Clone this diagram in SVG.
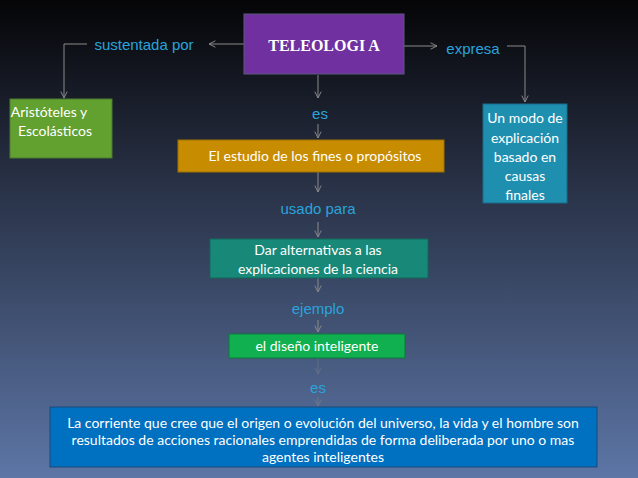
<svg xmlns="http://www.w3.org/2000/svg" width="638" height="478" viewBox="0 0 638 478">
<defs>
<linearGradient id="bg" x1="0" y1="0" x2="0" y2="1">
<stop offset="0" stop-color="#050507"/><stop offset="0.35" stop-color="#252d40"/><stop offset="1" stop-color="#5d76a6"/>
</linearGradient>
<marker id="a" viewBox="0 0 10 10" refX="9" refY="5" markerWidth="8" markerHeight="8" orient="auto"><path d="M1,1 L9,5 L1,9" fill="none" stroke="#8a8a8a" stroke-width="1.2"/></marker>
<style>
.c{fill:none;stroke:#8a8a8a;stroke-width:1;marker-end:url(#a)}
.l{font-family:"Liberation Sans",Arial,sans-serif;font-size:15px;fill:#2aa3dc;text-anchor:middle}
.t{font-family:Lato,"Open Sans",sans-serif;font-size:14px;fill:#fff;text-anchor:middle}
</style>
</defs>
<rect width="638" height="478" fill="url(#bg)"/>
<g id="connectors">
<path class="c" d="M244,44 H209"/>
<path class="c" d="M87,44 H64 V98"/>
<path class="c" d="M404,46 H437"/>
<path class="c" d="M507,46 H525 V102"/>
<path class="c" d="M318,75 V98"/>
<path class="c" d="M318,124 V138"/>
<path class="c" d="M318,172 V192"/>
<path class="c" d="M318,222 V237"/>
<path class="c" d="M318,278 V292"/>
<path class="c" d="M318,320 V332"/>
<path class="c" d="M318,358 V374" opacity="0.4"/>
<path class="c" d="M318,397 V406" opacity="0.5"/>
</g>
<g id="teleologia"><rect x="244" y="14" width="160" height="60" fill="#7030a0" stroke="#5a5a7a"/><text x="324" y="51" font-family="'Liberation Serif',serif" font-weight="bold" font-size="16" fill="#fff" text-anchor="middle">TELEOLOGI A</text></g>
<g id="lbl-sustentada"><text class="l" x="144" y="50">sustentada por</text></g>
<g id="lbl-expresa"><text class="l" x="473" y="54">expresa</text></g>
<g id="aristoteles"><rect x="10" y="99" width="102" height="59" fill="#62a030" stroke="#4a7a30"/><text class="t" x="49" y="117">Aristóteles y</text><text class="t" x="55" y="136">Escolásticos</text></g>
<g id="unmodo"><rect x="483" y="104" width="84" height="99" fill="#1f8fb0" stroke="#1a6a8a"/><text class="t" x="525" y="123">Un modo de</text><text class="t" x="525" y="143">explicación</text><text class="t" x="525" y="162">basado en</text><text class="t" x="525" y="181">causas</text><text class="t" x="525" y="200">finales</text></g>
<g id="lbl-es1"><text class="l" x="320" y="119">es</text></g>
<g id="estudio"><rect x="178" y="140" width="266" height="32" fill="#c88c00" stroke="#a07000"/><text class="t" x="315" y="161">El estudio de los fines o propósitos</text></g>
<g id="lbl-usado"><text class="l" x="318" y="214">usado para</text></g>
<g id="dar"><rect x="210" y="239" width="218" height="39" fill="#188878" stroke="#106858"/><text class="t" x="318" y="255">Dar alternativas a las</text><text class="t" x="318" y="274">explicaciones de la ciencia</text></g>
<g id="lbl-ejemplo"><text class="l" x="318" y="314">ejemplo</text></g>
<g id="diseno"><rect x="229" y="334" width="176" height="24" fill="#10b050" stroke="#0a7a3a"/><text class="t" x="317" y="351">el diseño inteligente</text></g>
<g id="lbl-es2"><text class="l" x="318" y="393" fill="#2c8ac8">es</text></g>
<g id="corriente"><rect x="50" y="407" width="547" height="60" fill="#0070c0" stroke="#1a4a7a"/><text class="t" x="323" y="428" font-size="13">La corriente que cree que el origen o evolución del universo, la vida y el hombre son</text><text class="t" x="323" y="445" font-size="13">resultados de acciones racionales emprendidas de forma deliberada por uno o mas</text><text class="t" x="323" y="462" font-size="13">agentes inteligentes</text></g>
</svg>
